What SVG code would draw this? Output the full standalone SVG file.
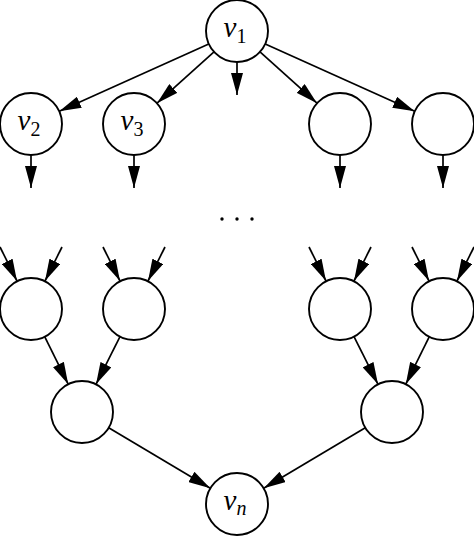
<svg xmlns="http://www.w3.org/2000/svg" width="474" height="536" viewBox="0 0 474 536">
<style>
.node circle{fill:#fff;stroke:#000;stroke-width:1.9}
.lbl{font-family:"Liberation Serif","DejaVu Serif",serif;font-style:italic;font-size:29px;fill:#000;text-anchor:middle}
.sub{font-style:normal;font-size:20px}
.subi{font-style:italic;font-size:20px}
#edges line{stroke:#000;stroke-width:1.7;marker-end:url(#ah)}
</style>
<defs>
<marker id="ah" markerUnits="userSpaceOnUse" markerWidth="22" markerHeight="12" refX="22" refY="6" orient="auto">
<path d="M0,0 L22,6 L0,12 Z" fill="#000"/>
</marker>
</defs>
<rect width="474" height="536" fill="#fff"/>
<g id="edges">
<line x1="209.3" y1="43.7" x2="59.3" y2="111.3"/>
<line x1="214" y1="51.8" x2="157" y2="103.2"/>
<line x1="237" y1="62" x2="237" y2="95"/>
<line x1="260" y1="51.8" x2="317" y2="103.2"/>
<line x1="264.7" y1="43.7" x2="414.7" y2="111.3"/>
<line x1="31" y1="155" x2="31" y2="188"/>
<line x1="134" y1="155" x2="134" y2="188"/>
<line x1="340" y1="155" x2="340" y2="188"/>
<line x1="443" y1="155" x2="443" y2="188"/>
<line x1="0" y1="247" x2="17" y2="281"/>
<line x1="62" y1="247" x2="45" y2="281"/>
<line x1="103" y1="247" x2="120" y2="281"/>
<line x1="165" y1="247" x2="148" y2="281"/>
<line x1="309" y1="247" x2="326" y2="281"/>
<line x1="371" y1="247" x2="354" y2="281"/>
<line x1="412" y1="247" x2="429" y2="281"/>
<line x1="474" y1="247" x2="457" y2="281"/>
<line x1="44.8" y1="336.8" x2="68.2" y2="384.2"/>
<line x1="120" y1="336.7" x2="96" y2="384.3"/>
<line x1="354" y1="336.7" x2="378" y2="384.3"/>
<line x1="429.2" y1="336.8" x2="405.8" y2="384.2"/>
<line x1="108.7" y1="427.8" x2="210.3" y2="488.2"/>
<line x1="365.3" y1="427.8" x2="263.7" y2="488.2"/>
</g>
<g id="dots" fill="#000">
<circle cx="222" cy="219" r="1.7"/>
<circle cx="237" cy="219" r="1.7"/>
<circle cx="252" cy="219" r="1.7"/>
</g>
<g id="v1" class="node"><circle cx="237" cy="31" r="31"/><text class="lbl" x="235" y="37">v<tspan class="sub" dy="6">1</tspan></text></g>
<g id="v2" class="node"><circle cx="31" cy="124" r="31"/><text class="lbl" x="29" y="130">v<tspan class="sub" dy="6">2</tspan></text></g>
<g id="v3" class="node"><circle cx="134" cy="124" r="31"/><text class="lbl" x="132" y="130">v<tspan class="sub" dy="6">3</tspan></text></g>
<g id="t3" class="node"><circle cx="340" cy="124" r="31"/></g>
<g id="t4" class="node"><circle cx="443" cy="124" r="31"/></g>
<g id="m1" class="node"><circle cx="31" cy="309" r="31"/></g>
<g id="m2" class="node"><circle cx="134" cy="309" r="31"/></g>
<g id="m3" class="node"><circle cx="340" cy="309" r="31"/></g>
<g id="m4" class="node"><circle cx="443" cy="309" r="31"/></g>
<g id="l1" class="node"><circle cx="82" cy="412" r="31"/></g>
<g id="l2" class="node"><circle cx="392" cy="412" r="31"/></g>
<g id="vn" class="node"><circle cx="237" cy="504" r="31"/><text class="lbl" x="235" y="510">v<tspan class="subi" dy="5">n</tspan></text></g>
</svg>
